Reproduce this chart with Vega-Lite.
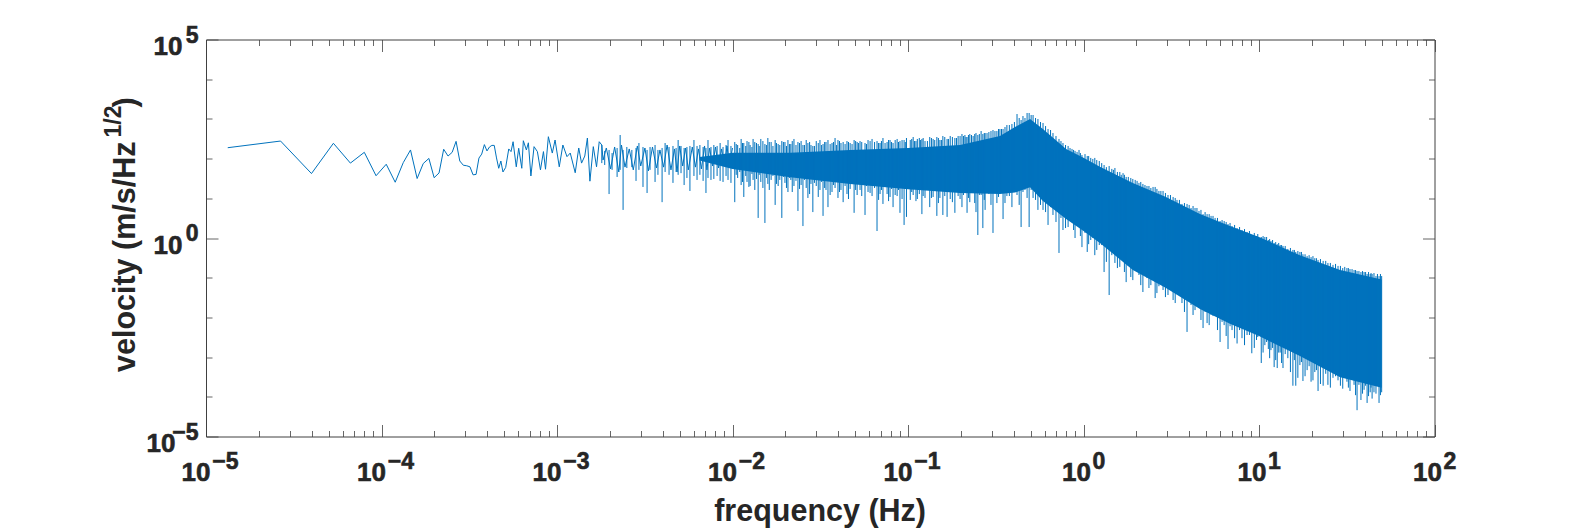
{
  "$schema": "https://vega.github.io/schema/vega-lite/v6.json",
  "autosize": "none",
  "width": 1228.5,
  "height": 397,
  "padding": {"left": 206, "top": 39.5, "right": 150.5, "bottom": 92.5},
  "background": "white",
  "config": {
    "view": {"stroke": null},
    "axis": {
      "grid": false,
      "labelFont": "Liberation Sans",
      "labelFontWeight": "bold",
      "labelFontSize": 26,
      "labelColor": "#262626",
      "labelOverlap": false,
      "labelBound": false,
      "labelFlush": false,
      "titleFont": "Liberation Sans",
      "titleFontWeight": "bold",
      "titleFontSize": 30.5,
      "titleColor": "#262626",
      "domainColor": "#404040",
      "domainWidth": 1,
      "tickColor": "#404040",
      "tickWidth": 0.8
    }
  },
  "datasets": {
    "low": [
      {"f":1.33e-5,"v":188},{"f":2.66e-5,"v":277},{"f":3.99e-5,"v":42},{"f":5.32e-5,"v":243},{"f":6.65e-5,"v":77},{"f":7.98e-5,"v":144},{"f":9.31e-5,"v":37},{"f":1.064e-4,"v":72},{"f":1.197e-4,"v":25.4},{"f":1.33e-4,"v":79},
      {"f":1.463e-4,"v":165},{"f":1.596e-4,"v":31.5},{"f":1.729e-4,"v":75},{"f":1.862e-4,"v":101},{"f":1.995e-4,"v":33},{"f":2.128e-4,"v":43.5},{"f":2.261e-4,"v":172},{"f":2.394e-4,"v":116},{"f":2.527e-4,"v":144},{"f":2.66e-4,"v":272},
      {"f":2.793e-4,"v":87},{"f":2.926e-4,"v":68},{"f":3.059e-4,"v":66},{"f":3.192e-4,"v":62},{"f":3.325e-4,"v":39},{"f":3.458e-4,"v":40},{"f":3.591e-4,"v":103},{"f":3.724e-4,"v":130},{"f":3.857e-4,"v":225},{"f":3.99e-4,"v":156},
      {"f":4.123e-4,"v":196},{"f":4.256e-4,"v":215},{"f":4.389e-4,"v":215},{"f":4.522e-4,"v":104},{"f":4.655e-4,"v":57},{"f":4.788e-4,"v":87},{"f":4.921e-4,"v":46},{"f":5.1e-4,"v":60},{"f":5.31e-4,"v":175},{"f":5.47e-4,"v":150},
      {"f":5.62e-4,"v":266},{"f":5.86e-4,"v":62},{"f":6.05e-4,"v":182},{"f":6.3e-4,"v":57},{"f":6.43e-4,"v":282},{"f":6.69e-4,"v":165},{"f":6.87e-4,"v":250},{"f":7.1e-4,"v":36.5},{"f":7.4e-4,"v":200},{"f":7.73e-4,"v":150},
      {"f":8.05e-4,"v":52},{"f":8.37e-4,"v":150},{"f":8.6e-4,"v":54},{"f":8.93e-4,"v":356},{"f":9.4e-4,"v":138},{"f":9.75e-4,"v":294},{"f":1.03e-3,"v":62},{"f":1.08e-3,"v":220},{"f":1.14e-3,"v":112},{"f":1.19e-3,"v":138},
      {"f":1.27e-3,"v":44},{"f":1.33e-3,"v":185},{"f":1.38e-3,"v":77},{"f":1.44e-3,"v":116},{"f":1.49e-3,"v":330},{"f":1.54e-3,"v":27},{"f":1.61e-3,"v":200},{"f":1.68e-3,"v":62},{"f":1.74e-3,"v":266},{"f":1.8e-3,"v":220},
      {"f":0.00183,"v":92},{"f":0.00191,"v":185},{"f":0.00202,"v":55},{"f":0.00213,"v":196},{"f":0.00225,"v":46},{"f":0.00233,"v":220},{"f":0.00244,"v":61},{"f":0.00258,"v":175},{"f":0.00272,"v":52},{"f":0.00287,"v":208},
      {"f":0.003,"v":65},{"f":0.00317,"v":185},{"f":0.00332,"v":49},{"f":0.0035,"v":196},{"f":0.00369,"v":58},{"f":0.00386,"v":165},{"f":0.00405,"v":61},{"f":0.00424,"v":220},{"f":0.00446,"v":52},{"f":0.00467,"v":175},
      {"f":0.00483,"v":46},{"f":0.005,"v":208},{"f":0.0052,"v":65},{"f":0.0054,"v":185},{"f":0.0056,"v":52},{"f":0.0059,"v":196},{"f":0.00615,"v":61},{"f":0.0064,"v":175},{"f":0.00665,"v":55},{"f":0.00693,"v":208},
      {"f":0.00715,"v":52},{"f":0.0074,"v":185},{"f":0.0077,"v":65},{"f":0.008,"v":196},{"f":0.00833,"v":58},{"f":0.00866,"v":175},{"f":0.009,"v":65},{"f":0.0093,"v":208},{"f":0.0096,"v":69},{"f":0.01,"v":185}
    ],
    "body": [
      {"f":0.0065,"top":110,"bot":90},{"f":0.01,"top":140,"bot":55},{"f":0.0213,"top":140,"bot":34},{"f":0.0468,"top":165,"bot":23},{"f":0.1,"top":185,"bot":17},
      {"f":0.198,"top":220,"bot":13.6},{"f":0.334,"top":371,"bot":12.8},{"f":0.407,"top":624,"bot":14},{"f":0.496,"top":990,"bot":19},{"f":0.587,"top":560,"bot":8.5},{"f":0.796,"top":175,"bot":3},
      {"f":1,"top":105,"bot":1.5},{"f":1.24,"top":62,"bot":0.75},{"f":1.91,"top":24.4,"bot":0.157},{"f":2.95,"top":10.8,"bot":0.055},{"f":4.61,"top":4,"bot":0.0163},{"f":6.83,"top":2,"bot":0.0069},
      {"f":10,"top":1.06,"bot":0.0034},{"f":17.1,"top":0.37,"bot":0.00106},{"f":29,"top":0.156,"bot":0.00031},{"f":50,"top":0.09,"bot":0.00017}
    ],
    "spikes": [
      {"f":0.0018,"hi":220,"lo":77},{"f":0.00187,"hi":156,"lo":69},{"f":0.00198,"hi":165,"lo":12.8},{"f":0.00206,"hi":138,"lo":52},{"f":0.0022,"hi":185,"lo":34.5},{"f":0.00229,"hi":393,"lo":52},{"f":0.00238,"hi":165,"lo":5.1},{"f":0.0025,"hi":196,"lo":58},{"f":0.00267,"hi":165,"lo":61},{"f":0.00282,"hi":185,"lo":27.4},
      {"f":0.00293,"hi":247,"lo":52},{"f":0.00309,"hi":196,"lo":19.3},{"f":0.00326,"hi":165,"lo":13.6},{"f":0.00339,"hi":196,"lo":52},{"f":0.00362,"hi":220,"lo":25.8},{"f":0.00376,"hi":165,"lo":39},{"f":0.00397,"hi":185,"lo":8},{"f":0.00413,"hi":247,"lo":46},{"f":0.00435,"hi":196,"lo":39},{"f":0.00458,"hi":208,"lo":24.4},
      {"f":0.00477,"hi":185,"lo":46},{"f":0.0049,"hi":294,"lo":39},{"f":0.00509,"hi":208,"lo":43},{"f":0.0053,"hi":185,"lo":21.6},{"f":0.0055,"hi":196,"lo":32.5},{"f":0.00572,"hi":208,"lo":15.3},{"f":0.00603,"hi":294,"lo":36.5},{"f":0.00628,"hi":208,"lo":29},{"f":0.00652,"hi":220,"lo":39},{"f":0.0068,"hi":196,"lo":27.4},
      {"f":0.00706,"hi":185,"lo":13.6},{"f":0.00725,"hi":294,"lo":32.5},{"f":0.00754,"hi":196,"lo":29},{"f":0.00783,"hi":220,"lo":30.7},{"f":0.00817,"hi":208,"lo":36.5},{"f":0.0085,"hi":247,"lo":27.4},{"f":0.00883,"hi":196,"lo":25.8},{"f":0.00919,"hi":220,"lo":36.5},{"f":0.00943,"hi":294,"lo":29},{"f":0.0098,"hi":208,"lo":24.4},
      {"f":0.0103,"hi":262,"lo":8},{"f":0.0107,"hi":220,"lo":32.5},{"f":0.0112,"hi":312,"lo":21.6},{"f":0.0116,"hi":247,"lo":10.8},{"f":0.0121,"hi":277,"lo":25.8},{"f":0.0126,"hi":220,"lo":20.4},{"f":0.0131,"hi":312,"lo":29},{"f":0.0134,"hi":262,"lo":16.2},{"f":0.014,"hi":233,"lo":3.2},{"f":0.0145,"hi":312,"lo":25.8},
      {"f":0.0153,"hi":233,"lo":2.39},{"f":0.0159,"hi":330,"lo":23},{"f":0.0166,"hi":262,"lo":29},{"f":0.0175,"hi":294,"lo":6.8},{"f":0.0182,"hi":233,"lo":20.4},{"f":0.0191,"hi":277,"lo":3.2},{"f":0.0199,"hi":262,"lo":24.4},{"f":0.0207,"hi":294,"lo":14.4},{"f":0.0215,"hi":233,"lo":29},{"f":0.0224,"hi":312,"lo":20.4},
      {"f":0.0236,"hi":262,"lo":4.8},{"f":0.0246,"hi":277,"lo":21.6},{"f":0.0252,"hi":220,"lo":2},{"f":0.0263,"hi":294,"lo":18.2},{"f":0.0269,"hi":247,"lo":10.2},{"f":0.028,"hi":220,"lo":23},{"f":0.0287,"hi":208,"lo":4.5},{"f":0.03,"hi":277,"lo":20.4},{"f":0.0315,"hi":294,"lo":16.2},{"f":0.0328,"hi":233,"lo":3.6},
      {"f":0.0341,"hi":262,"lo":16.2},{"f":0.035,"hi":294,"lo":6},{"f":0.0369,"hi":247,"lo":14.4},{"f":0.0384,"hi":330,"lo":18.2},{"f":0.0399,"hi":294,"lo":10.2},{"f":0.0415,"hi":247,"lo":16.2},{"f":0.0427,"hi":262,"lo":8},{"f":0.0449,"hi":277,"lo":12.8},{"f":0.0468,"hi":247,"lo":17.2},{"f":0.0493,"hi":294,"lo":4.3},
      {"f":0.0513,"hi":262,"lo":12.1},{"f":0.0533,"hi":277,"lo":16.2},{"f":0.0569,"hi":247,"lo":3.8},{"f":0.0592,"hi":294,"lo":14.4},{"f":0.0624,"hi":312,"lo":11.4},{"f":0.0666,"hi":277,"lo":1.5},{"f":0.0693,"hi":247,"lo":12.8},{"f":0.072,"hi":330,"lo":7.2},{"f":0.076,"hi":262,"lo":12.8},{"f":0.079,"hi":294,"lo":10.8},
      {"f":0.0822,"hi":247,"lo":6},{"f":0.0867,"hi":312,"lo":11.4},{"f":0.09,"hi":277,"lo":4.3},{"f":0.095,"hi":294,"lo":2.13},{"f":0.098,"hi":330,"lo":3.4},{"f":0.103,"hi":294,"lo":9.1},{"f":0.107,"hi":350,"lo":12.1},{"f":0.111,"hi":277,"lo":8.5},{"f":0.116,"hi":330,"lo":12.8},{"f":0.12,"hi":312,"lo":4},
      {"f":0.125,"hi":277,"lo":10.2},{"f":0.133,"hi":350,"lo":6},{"f":0.139,"hi":312,"lo":10.8},{"f":0.146,"hi":350,"lo":3.6},{"f":0.152,"hi":294,"lo":10.2},{"f":0.158,"hi":371,"lo":3.8},{"f":0.167,"hi":312,"lo":3.4},{"f":0.174,"hi":371,"lo":9.6},{"f":0.185,"hi":330,"lo":4.3},{"f":0.193,"hi":371,"lo":11.4},
      {"f":0.203,"hi":416,"lo":6},{"f":0.211,"hi":393,"lo":16.2},{"f":0.217,"hi":350,"lo":4.3},{"f":0.225,"hi":416,"lo":8},{"f":0.235,"hi":371,"lo":14.4},{"f":0.244,"hi":441,"lo":4.5},{"f":0.25,"hi":393,"lo":1.19},{"f":0.261,"hi":495,"lo":12.1},{"f":0.267,"hi":416,"lo":1.78},{"f":0.275,"hi":441,"lo":5.1},
      {"f":0.289,"hi":467,"lo":12.8},{"f":0.305,"hi":525,"lo":1.34},{"f":0.321,"hi":495,"lo":7.6},{"f":0.334,"hi":556,"lo":14.4},{"f":0.348,"hi":556,"lo":3},{"f":0.366,"hi":701,"lo":11.4},{"f":0.391,"hi":745,"lo":6},{"f":0.418,"hi":1327,"lo":12.1},{"f":0.441,"hi":938,"lo":1.89},{"f":0.464,"hi":1054,"lo":16.2},
      {"f":0.49,"hi":1409,"lo":1.89},{"f":0.516,"hi":1253,"lo":10.2},{"f":0.55,"hi":993,"lo":5.1},{"f":0.588,"hi":789,"lo":5.1},{"f":0.628,"hi":556,"lo":2.13},{"f":0.67,"hi":441,"lo":3.8},{"f":0.725,"hi":312,"lo":0.42},{"f":0.764,"hi":247,"lo":1.59},{"f":0.817,"hi":208,"lo":1.89},{"f":0.86,"hi":175,"lo":2.53},
      {"f":0.895,"hi":156,"lo":1},{"f":0.943,"hi":165,"lo":2},{"f":0.98,"hi":123,"lo":0.59},{"f":1.05,"hi":116,"lo":0.445},{"f":1.1,"hi":104,"lo":0.89},{"f":1.16,"hi":104,"lo":0.37},{"f":1.23,"hi":87,"lo":0.665},{"f":1.31,"hi":69,"lo":0.139},{"f":1.4,"hi":65,"lo":0.0366},{"f":1.45,"hi":55,"lo":0.37},
      {"f":1.51,"hi":58,"lo":0.235},{"f":1.61,"hi":46,"lo":0.187},{"f":1.68,"hi":43,"lo":0.35},{"f":1.75,"hi":34.5,"lo":0.0775},{"f":1.86,"hi":32.5,"lo":0.104},{"f":1.97,"hi":29,"lo":0.175},{"f":2.07,"hi":24.4,"lo":0.117},{"f":2.18,"hi":23,"lo":0.0436},{"f":2.3,"hi":20.4,"lo":0.098},{"f":2.42,"hi":18.2,"lo":0.065},
      {"f":2.56,"hi":19.3,"lo":0.0307},{"f":2.69,"hi":15.3,"lo":0.061},{"f":2.84,"hi":15.3,"lo":0.049},{"f":3.03,"hi":12.1,"lo":0.0366},{"f":3.24,"hi":10.8,"lo":0.0274},{"f":3.41,"hi":9.1,"lo":0.0436},{"f":3.64,"hi":7.2,"lo":0.023},{"f":3.89,"hi":7.2,"lo":0.0043},{"f":4.1,"hi":5.7,"lo":0.0205},{"f":4.32,"hi":5.7,"lo":0.0153},
      {"f":4.55,"hi":4.8,"lo":0.0172},{"f":4.8,"hi":4,"lo":0.0054},{"f":5.06,"hi":4,"lo":0.0072},{"f":5.33,"hi":3.6,"lo":0.0115},{"f":5.62,"hi":3.2,"lo":0.0108},{"f":6,"hi":2.68,"lo":0.0024},{"f":6.33,"hi":2.68,"lo":0.0064},{"f":6.66,"hi":2.25,"lo":0.0016},{"f":7.02,"hi":2,"lo":0.0048},{"f":7.5,"hi":1.78,"lo":0.0022},
      {"f":8,"hi":1.59,"lo":0.003},{"f":8.55,"hi":1.42,"lo":0.0036},{"f":9.1,"hi":1.19,"lo":0.00125},{"f":9.68,"hi":1.12,"lo":0.0027},{"f":10.3,"hi":1.06,"lo":0.00071},{"f":10.8,"hi":1.06,"lo":0.002},{"f":11.3,"hi":0.89,"lo":0.0016},{"f":11.7,"hi":0.84,"lo":0.0015},{"f":12.2,"hi":0.75,"lo":0.00056},{"f":12.7,"hi":0.7,"lo":0.00053},
      {"f":13.2,"hi":0.665,"lo":0.0013},{"f":13.7,"hi":0.63,"lo":0.00053},{"f":14.6,"hi":0.53,"lo":0.00094},{"f":15.6,"hi":0.5,"lo":0.00019},{"f":16.2,"hi":0.445,"lo":0.00019},{"f":17.1,"hi":0.445,"lo":0.00063},{"f":17.8,"hi":0.39,"lo":0.00025},{"f":18.8,"hi":0.35,"lo":0.00047},{"f":19.8,"hi":0.33,"lo":0.00024},{"f":20.8,"hi":0.31,"lo":0.00042},
      {"f":21.7,"hi":0.28,"lo":0.00014},{"f":23.2,"hi":0.265,"lo":0.00019},{"f":24.7,"hi":0.235,"lo":0.0002},{"f":26.4,"hi":0.21,"lo":0.0003},{"f":28.2,"hi":0.198,"lo":0.00026},{"f":30,"hi":0.175,"lo":0.00016},{"f":31.7,"hi":0.175,"lo":0.00024},{"f":33,"hi":0.165,"lo":0.00014},{"f":34.8,"hi":0.156,"lo":0.0002},{"f":36.2,"hi":0.147,"lo":0.000046},
      {"f":38.1,"hi":0.139,"lo":0.000083},{"f":39.7,"hi":0.139,"lo":0.00015},{"f":41.3,"hi":0.124,"lo":0.00007},{"f":43,"hi":0.124,"lo":0.00013},{"f":44.1,"hi":0.124,"lo":0.00009},{"f":46.4,"hi":0.11,"lo":0.00012},{"f":48.3,"hi":0.11,"lo":0.00007},{"f":50,"hi":0.11,"lo":0.00013},

      {"f":0.0105,"hi":233,"lo":39},{"f":0.011,"hi":185,"lo":46},{"f":0.0114,"hi":247,"lo":25.8},{"f":0.0119,"hi":208,"lo":36.5},{"f":0.0124,"hi":262,"lo":19.3},{"f":0.0129,"hi":196,"lo":41},{"f":0.0137,"hi":247,"lo":30.7},{"f":0.0142,"hi":208,"lo":39},{"f":0.0149,"hi":277,"lo":18.2},{"f":0.0156,"hi":220,"lo":32.5},
      {"f":0.0162,"hi":262,"lo":16.2},{"f":0.017,"hi":208,"lo":36.5},{"f":0.0178,"hi":247,"lo":23},{"f":0.0186,"hi":220,"lo":29},{"f":0.0195,"hi":262,"lo":34.5},{"f":0.0203,"hi":208,"lo":18.2},{"f":0.0211,"hi":233,"lo":32.5},{"f":0.0219,"hi":277,"lo":14.4},{"f":0.023,"hi":220,"lo":27.4},{"f":0.0241,"hi":247,"lo":17.2},
      {"f":0.0257,"hi":220,"lo":29},{"f":0.0275,"hi":262,"lo":12.8},{"f":0.0293,"hi":208,"lo":24.4},{"f":0.0308,"hi":247,"lo":10.8},{"f":0.0321,"hi":220,"lo":25.8},{"f":0.0335,"hi":262,"lo":18.2},{"f":0.036,"hi":233,"lo":12.1},{"f":0.0376,"hi":262,"lo":21.6},{"f":0.0392,"hi":220,"lo":25.8},{"f":0.0407,"hi":277,"lo":14.4},
      {"f":0.0438,"hi":233,"lo":20.4},{"f":0.0458,"hi":262,"lo":9.6},{"f":0.048,"hi":233,"lo":23},{"f":0.0503,"hi":277,"lo":16.2},{"f":0.0523,"hi":247,"lo":23},{"f":0.0545,"hi":262,"lo":11.4},{"f":0.058,"hi":233,"lo":20.4},{"f":0.0608,"hi":277,"lo":13.6},{"f":0.0645,"hi":262,"lo":18.2},{"f":0.068,"hi":247,"lo":9.1},
      {"f":0.0706,"hi":277,"lo":16.2},{"f":0.074,"hi":247,"lo":19.3},{"f":0.0775,"hi":294,"lo":8.5},{"f":0.0806,"hi":262,"lo":17.2},{"f":0.0845,"hi":294,"lo":12.1},{"f":0.0883,"hi":262,"lo":16.2},{"f":0.0925,"hi":294,"lo":9.6},{"f":0.0965,"hi":262,"lo":18.2},{"f":0.105,"hi":312,"lo":14.4},{"f":0.109,"hi":277,"lo":19.3},
      {"f":0.113,"hi":312,"lo":9.6},{"f":0.118,"hi":294,"lo":16.2},{"f":0.122,"hi":330,"lo":11.4},{"f":0.129,"hi":277,"lo":18.2},{"f":0.136,"hi":330,"lo":10.2},{"f":0.142,"hi":294,"lo":15.3},{"f":0.149,"hi":330,"lo":7.6},{"f":0.155,"hi":294,"lo":16.2},{"f":0.162,"hi":350,"lo":11.4},{"f":0.17,"hi":312,"lo":14.4},
      {"f":0.179,"hi":350,"lo":8},{"f":0.189,"hi":330,"lo":14.4},{"f":0.198,"hi":371,"lo":9.6},{"f":0.207,"hi":371,"lo":12.1},{"f":0.214,"hi":350,"lo":16.2},{"f":0.221,"hi":393,"lo":10.2},{"f":0.23,"hi":393,"lo":14.4},{"f":0.24,"hi":416,"lo":7.6},{"f":0.255,"hi":416,"lo":12.1},{"f":0.272,"hi":441,"lo":9.1},
      {"f":0.282,"hi":441,"lo":13.6},{"f":0.297,"hi":495,"lo":6.8},{"f":0.313,"hi":495,"lo":13.6},{"f":0.328,"hi":556,"lo":10.8},{"f":0.341,"hi":556,"lo":14.4},{"f":0.357,"hi":624,"lo":7.6},{"f":0.378,"hi":701,"lo":11.4},{"f":0.404,"hi":834,"lo":16.2},{"f":0.43,"hi":1054,"lo":6.8},{"f":0.452,"hi":1182,"lo":14.4},
      {"f":0.477,"hi":1409,"lo":10.2},{"f":0.503,"hi":1253,"lo":16.2},{"f":0.533,"hi":1054,"lo":9.1},{"f":0.569,"hi":834,"lo":6.8},{"f":0.608,"hi":661,"lo":4.5},{"f":0.649,"hi":525,"lo":6},{"f":0.697,"hi":371,"lo":2.53},{"f":0.744,"hi":277,"lo":3.2},{"f":0.79,"hi":220,"lo":1.78},{"f":0.838,"hi":185,"lo":2.84},
      {"f":0.878,"hi":165,"lo":1.59},{"f":0.919,"hi":147,"lo":2.13},{"f":0.96,"hi":138,"lo":1.12},{"f":1.02,"hi":130,"lo":1.34},{"f":1.07,"hi":116,"lo":0.7},{"f":1.13,"hi":98,"lo":1},{"f":1.19,"hi":92,"lo":0.5},{"f":1.27,"hi":77,"lo":0.665},{"f":1.35,"hi":61,"lo":0.25},{"f":1.48,"hi":52,"lo":0.445},
      {"f":1.56,"hi":46,"lo":0.175},{"f":1.64,"hi":39,"lo":0.31},{"f":1.71,"hi":39,"lo":0.139},{"f":1.8,"hi":34.5,"lo":0.198},{"f":1.91,"hi":30.7,"lo":0.087},{"f":2.02,"hi":27.4,"lo":0.156},{"f":2.12,"hi":25.8,"lo":0.065},{"f":2.24,"hi":21.6,"lo":0.11},{"f":2.36,"hi":20.4,"lo":0.055},{"f":2.49,"hi":19.3,"lo":0.092},
      {"f":2.62,"hi":17.2,"lo":0.041},{"f":2.76,"hi":15.3,"lo":0.069},{"f":2.93,"hi":13.6,"lo":0.0325},{"f":3.13,"hi":12.1,"lo":0.055},{"f":3.33,"hi":10.2,"lo":0.023},{"f":3.52,"hi":9.1,"lo":0.0366},{"f":3.76,"hi":7.6,"lo":0.0137},{"f":4,"hi":6.8,"lo":0.0274},{"f":4.21,"hi":6.4,"lo":0.0115},{"f":4.43,"hi":5.7,"lo":0.0193},
      {"f":4.67,"hi":5.1,"lo":0.0086},{"f":4.93,"hi":4.5,"lo":0.0137},{"f":5.2,"hi":4,"lo":0.0064},{"f":5.47,"hi":3.6,"lo":0.0108},{"f":5.8,"hi":3.2,"lo":0.0048},{"f":6.16,"hi":2.84,"lo":0.0077},{"f":6.5,"hi":2.53,"lo":0.0034},{"f":6.84,"hi":2.39,"lo":0.006},{"f":7.26,"hi":2.13,"lo":0.003},{"f":7.75,"hi":1.89,"lo":0.0048},
      {"f":8.27,"hi":1.68,"lo":0.002},{"f":8.82,"hi":1.5,"lo":0.0036},{"f":9.4,"hi":1.34,"lo":0.0017},{"f":9.84,"hi":1.26,"lo":0.0032},{"f":10.55,"hi":1.12,"lo":0.0013},{"f":11.05,"hi":1.06,"lo":0.0024},{"f":11.5,"hi":0.94,"lo":0.00094},{"f":11.95,"hi":0.89,"lo":0.0017},{"f":12.45,"hi":0.79,"lo":0.00084},{"f":12.95,"hi":0.75,"lo":0.0013},
      {"f":13.45,"hi":0.665,"lo":0.00071},{"f":14.1,"hi":0.63,"lo":0.00119},{"f":15.1,"hi":0.56,"lo":0.00042},{"f":15.9,"hi":0.5,"lo":0.00084},{"f":16.65,"hi":0.47,"lo":0.0003},{"f":17.45,"hi":0.445,"lo":0.00075},{"f":18.3,"hi":0.39,"lo":0.00033},{"f":19.3,"hi":0.37,"lo":0.00059},{"f":20.3,"hi":0.35,"lo":0.00026},{"f":21.25,"hi":0.31,"lo":0.00047},
      {"f":22.4,"hi":0.295,"lo":0.00021},{"f":24,"hi":0.265,"lo":0.00038},{"f":25.5,"hi":0.235,"lo":0.00017},{"f":27.3,"hi":0.222,"lo":0.00033},{"f":29.1,"hi":0.198,"lo":0.00019},{"f":30.8,"hi":0.187,"lo":0.0003},{"f":32.3,"hi":0.175,"lo":0.00017},{"f":33.9,"hi":0.165,"lo":0.0003},{"f":35.5,"hi":0.156,"lo":0.00011},{"f":37.1,"hi":0.147,"lo":0.0002},
      {"f":38.9,"hi":0.147,"lo":0.00012},{"f":40.5,"hi":0.139,"lo":0.00019},{"f":42.1,"hi":0.139,"lo":0.000104},{"f":43.5,"hi":0.131,"lo":0.00017},{"f":45.2,"hi":0.131,"lo":0.00013},{"f":47.3,"hi":0.124,"lo":0.00019},{"f":49.2,"hi":0.124,"lo":0.00011}
    ]
  },
  "resolve": {"axis": {"x": "independent", "y": "independent"}},
  "layer": [
    {
      "data": {"name": "body"},
      "mark": {"type": "area", "color": "#0072BD", "opacity": 1},
      "encoding": {
        "x": {"field": "f", "type": "quantitative", "scale": {"type": "log", "domain": [1e-5, 100], "nice": false},
          "axis": {"orient": "bottom", "values": [1e-5, 1e-4, 1e-3, 1e-2, 1e-1, 1, 10, 100], "tickSize": -12, "labelExpr": "'10'", "labelAlign": "right", "labelBaseline": "alphabetic", "labelPadding": 55.5,
            "encoding": {"labels": {"dx": {"condition": {"test": "datum.value >= 1", "value": 7}, "value": 4}, "stroke": {"value": "#262626"}, "strokeWidth": {"value": 0.6}}},
            "title": "frequency (Hz)", "titleX": 613.6, "titleY": 83.5, "titleAlign": "center", "titleBaseline": "alphabetic"}},
        "y": {"field": "top", "type": "quantitative", "scale": {"type": "log", "domain": [1e-5, 1e5], "nice": false},
          "axis": {"orient": "left", "values": [1e-5, 1, 1e5], "tickSize": -12, "labelExpr": "'10'", "labelAlign": "right", "labelBaseline": "alphabetic", "labelPadding": 36,
            "encoding": {"labels": {"dx": {"condition": {"test": "datum.value >= 1", "value": 0}, "value": -7}, "dy": {"value": 15}, "stroke": {"value": "#262626"}, "strokeWidth": {"value": 0.6}}},
            "title": "velocity (m/s/Hz", "titleX": -72, "titleY": 332, "titleAlign": "left", "titleBaseline": "alphabetic", "titleAngle": 270}},
        "y2": {"field": "bot"}
      }
    },
    {
      "data": {"name": "spikes"},
      "mark": {"type": "rule", "color": "#0072BD", "strokeWidth": 1},
      "encoding": {
        "x": {"field": "f", "type": "quantitative", "scale": {"type": "log", "domain": [1e-5, 100], "nice": false},
          "axis": {"orient": "bottom", "domain": false, "labels": false, "title": null, "tickSize": -6,
            "values": [2e-5,3e-5,4e-5,5e-5,6e-5,7e-5,8e-5,9e-5,2e-4,3e-4,4e-4,5e-4,6e-4,7e-4,8e-4,9e-4,2e-3,3e-3,4e-3,5e-3,6e-3,7e-3,8e-3,9e-3,0.02,0.03,0.04,0.05,0.06,0.07,0.08,0.09,0.2,0.3,0.4,0.5,0.6,0.7,0.8,0.9,2,3,4,5,6,7,8,9,20,30,40,50,60,70,80,90]}},
        "y": {"field": "hi", "type": "quantitative", "scale": {"type": "log", "domain": [1e-5, 1e5], "nice": false},
          "axis": {"orient": "left", "domain": false, "labels": false, "title": null, "tickSize": -6, "values": [1e-4, 1e-3, 1e-2, 1e-1, 10, 100, 1000, 1e4]}},
        "y2": {"field": "lo"}
      }
    },
    {
      "data": {"name": "low"},
      "mark": {"type": "line", "color": "#0072BD", "strokeWidth": 1},
      "encoding": {
        "x": {"field": "f", "type": "quantitative", "scale": {"type": "log", "domain": [1e-5, 100], "nice": false},
          "axis": {"orient": "top", "labels": false, "title": null, "tickSize": -12, "values": [1e-5, 1e-4, 1e-3, 1e-2, 1e-1, 1, 10, 100]}},
        "y": {"field": "v", "type": "quantitative", "scale": {"type": "log", "domain": [1e-5, 1e5], "nice": false},
          "axis": {"orient": "right", "labels": false, "title": null, "tickSize": -12, "values": [1e-5, 1, 1e5]}}
      }
    },
    {
      "data": {"name": "low"},
      "mark": {"type": "line", "opacity": 0},
      "encoding": {
        "x": {"field": "f", "type": "quantitative", "scale": {"type": "log", "domain": [1e-5, 100], "nice": false},
          "axis": {"orient": "top", "domain": false, "labels": false, "title": null, "tickSize": -6,
            "values": [2e-5,3e-5,4e-5,5e-5,6e-5,7e-5,8e-5,9e-5,2e-4,3e-4,4e-4,5e-4,6e-4,7e-4,8e-4,9e-4,2e-3,3e-3,4e-3,5e-3,6e-3,7e-3,8e-3,9e-3,0.02,0.03,0.04,0.05,0.06,0.07,0.08,0.09,0.2,0.3,0.4,0.5,0.6,0.7,0.8,0.9,2,3,4,5,6,7,8,9,20,30,40,50,60,70,80,90]}},
        "y": {"field": "v", "type": "quantitative", "scale": {"type": "log", "domain": [1e-5, 1e5], "nice": false},
          "axis": {"orient": "right", "domain": false, "labels": false, "title": null, "tickSize": -6, "values": [1e-4, 1e-3, 1e-2, 1e-1, 10, 100, 1000, 1e4]}}
      }
    },
    {
      "data": {"name": "low"},
      "mark": {"type": "line", "opacity": 0},
      "encoding": {
        "x": {"field": "f", "type": "quantitative", "scale": {"type": "log", "domain": [1e-5, 100], "nice": false},
          "axis": {"orient": "bottom", "domain": false, "ticks": false, "values": [1e-5, 1e-4, 1e-3, 1e-2, 1e-1, 1, 10, 100],
            "labelExpr": "replace('' + round(log(datum.value) / LN10), '-', '−')", "labelFontSize": 23, "labelAlign": "left", "labelBaseline": "alphabetic", "labelPadding": 31.5,
            "encoding": {"labels": {"dx": {"condition": {"test": "datum.value >= 1", "value": 8.5}, "value": 5.7}, "stroke": {"value": "#262626"}, "strokeWidth": {"value": 0.6}}},
            "title": null}},
        "y": {"field": "v", "type": "quantitative", "scale": {"type": "log", "domain": [1e-5, 1e5], "nice": false},
          "axis": {"orient": "left", "domain": false, "ticks": false, "values": [1e-5, 1, 1e5],
            "labelExpr": "replace('' + round(log(datum.value) / LN10), '-', '−')", "labelFontSize": 23, "labelAlign": "right", "labelBaseline": "alphabetic", "labelPadding": 8,
            "encoding": {"labels": {"dy": {"value": 2.5}, "stroke": {"value": "#262626"}, "strokeWidth": {"value": 0.6}}},
            "title": "1/2", "titleFontSize": 23, "titleX": -86, "titleY": 97.5, "titleAlign": "left", "titleBaseline": "alphabetic", "titleAngle": 270}}
      }
    },
    {
      "data": {"name": "low"},
      "mark": {"type": "line", "opacity": 0},
      "encoding": {
        "x": {"field": "f", "type": "quantitative", "scale": {"type": "log", "domain": [1e-5, 100], "nice": false}, "axis": null},
        "y": {"field": "v", "type": "quantitative", "scale": {"type": "log", "domain": [1e-5, 1e5], "nice": false},
          "axis": {"orient": "left", "domain": false, "ticks": false, "labels": false, "values": [1],
            "title": ")", "titleX": -72, "titleY": 67.5, "titleAlign": "left", "titleBaseline": "alphabetic", "titleAngle": 270}}
      }
    }
  ]
}
